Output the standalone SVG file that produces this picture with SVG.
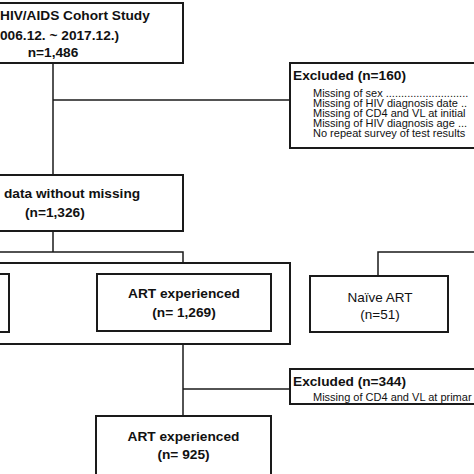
<svg xmlns="http://www.w3.org/2000/svg" width="474" height="474" viewBox="0 0 474 474">
<style>
.box{fill:#fff;stroke:#1a1a1a;stroke-width:2}
.con{fill:none;stroke:#1a1a1a;stroke-width:1.5}
.b{font-family:"Liberation Sans",Arial,sans-serif;font-weight:bold;font-size:13.7px;fill:#111}
.r{font-family:"Liberation Sans",Arial,sans-serif;font-size:13.5px;fill:#111}
.s{font-family:"Liberation Sans",Arial,sans-serif;font-size:11px;fill:#111}
.m{text-anchor:middle}
</style>
<rect width="474" height="474" fill="#fff"/>
<g id="connectors">
<path class="con" d="M53 63V175"/>
<path class="con" d="M53 100H290"/>
<path class="con" d="M53 231V252"/>
<path class="con" d="M-5 252H183V274"/>
<path class="con" d="M378 276V252H480"/>
<path class="con" d="M183 344V416"/>
<path class="con" d="M183 389H290"/>
</g>
<g id="group-outer">
<rect class="box" x="-200" y="263" width="490" height="81"/>
</g>
<g id="cohort">
<rect class="box" x="-77" y="3" width="260" height="60"/>
<text class="b" x="0" y="20">HIV/AIDS Cohort Study</text>
<text class="b" x="0" y="39.5">006.12. ~ 2017.12.)</text>
<text class="b m" x="53" y="57">n=1,486</text>
</g>
<g id="excluded160">
<rect class="box" x="290" y="63" width="250" height="85"/>
<text class="b" x="293" y="80">Excluded (n=160)</text>
<text class="s" x="313" y="96.5">Missing of sex ...........................</text>
<text class="s" x="313" y="106.7">Missing of HIV diagnosis date ..</text>
<text class="s" x="313" y="116.9">Missing of CD4 and VL at initial</text>
<text class="s" x="313" y="127.1">Missing of HIV diagnosis age ...</text>
<text class="s" x="313" y="137.3">No repeat survey of test results</text>
</g>
<g id="data">
<rect class="box" x="-77" y="175" width="260" height="56"/>
<text class="b" x="4" y="198">data without missing</text>
<text class="b" x="25" y="217">(n=1,326)</text>
</g>
<g id="left-box">
<rect class="box" x="-165" y="274" width="174" height="58"/>
</g>
<g id="art1269">
<rect class="box" x="97" y="274" width="174" height="57"/>
<text class="b m" x="184" y="298">ART experienced</text>
<text class="b m" x="184" y="316.5">(n= 1,269)</text>
</g>
<g id="naive">
<rect class="box" x="310" y="276" width="138" height="56"/>
<text class="r m" x="380" y="301.5">Naïve ART</text>
<text class="r m" x="380" y="318.5">(n=51)</text>
</g>
<g id="excluded344">
<rect class="box" x="290" y="369" width="250" height="35"/>
<text class="b" x="293" y="386">Excluded (n=344)</text>
<text class="s" x="313" y="401">Missing of CD4 and VL at primar</text>
</g>
<g id="art925">
<rect class="box" x="96" y="416" width="175" height="80"/>
<text class="b m" x="183.5" y="440.5">ART experienced</text>
<text class="b m" x="183.5" y="459">(n= 925)</text>
</g>
</svg>
